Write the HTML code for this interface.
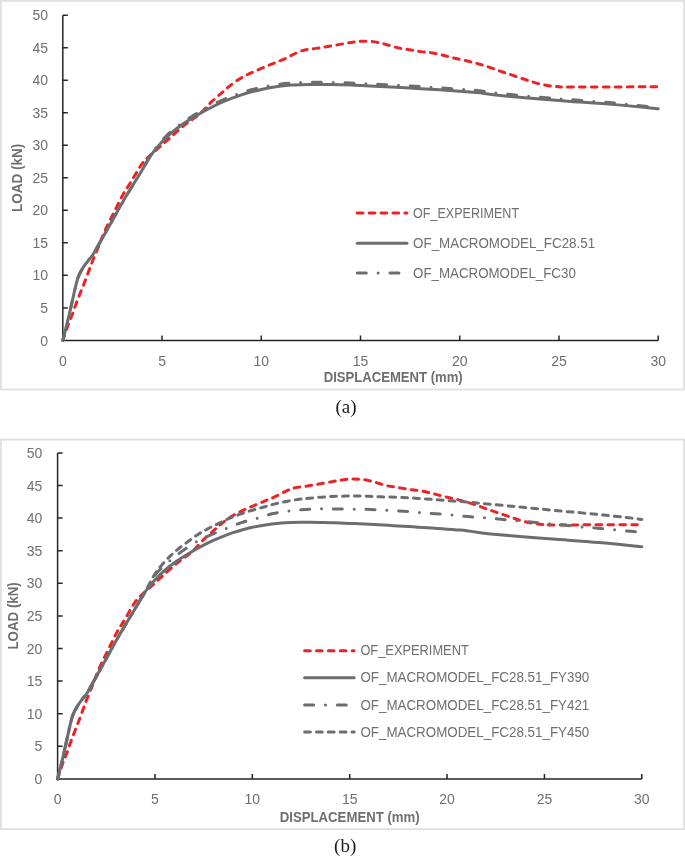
<!DOCTYPE html>
<html><head><meta charset="utf-8"><title>Load-displacement curves</title>
<style>
html,body{margin:0;padding:0;background:#fff;}
body{width:685px;height:858px;overflow:hidden;}
svg{display:block;font-family:"Liberation Sans", Arial, sans-serif;}
.cap{font-family:"Liberation Serif","Times New Roman",serif;}
</style></head><body>
<svg width="685" height="858" viewBox="0 0 685 858">
<rect x="0.9" y="0.9" width="683.2" height="388.6" fill="#fff" stroke="#dfe0e2" stroke-width="1.8"/>
<rect x="0.9" y="439.6" width="683.2" height="389.5" fill="#fff" stroke="#dfe0e2" stroke-width="1.8"/>
<path d="M62.8 15.2 V340.4 H658.2" fill="none" stroke="#262626" stroke-width="1.5"/>
<path d="M62.8 307.88h5 M62.8 275.36h5 M62.8 242.84h5 M62.8 210.32h5 M62.8 177.8h5 M62.8 145.28h5 M62.8 112.76h5 M62.8 80.24h5 M62.8 47.72h5 M62.8 15.2h5 M162.03 340.4v-5 M261.27 340.4v-5 M360.5 340.4v-5 M459.73 340.4v-5 M558.97 340.4v-5 M658.2 340.4v-5" stroke="#262626" stroke-width="1.5"/>
<g fill="#6e6f72" font-size="14">
<text x="48.1" y="345.5" text-anchor="end">0</text>
<text x="48.1" y="312.98" text-anchor="end">5</text>
<text x="48.1" y="280.46" text-anchor="end">10</text>
<text x="48.1" y="247.94" text-anchor="end">15</text>
<text x="48.1" y="215.42" text-anchor="end">20</text>
<text x="48.1" y="182.9" text-anchor="end">25</text>
<text x="48.1" y="150.38" text-anchor="end">30</text>
<text x="48.1" y="117.86" text-anchor="end">35</text>
<text x="48.1" y="85.34" text-anchor="end">40</text>
<text x="48.1" y="52.82" text-anchor="end">45</text>
<text x="48.1" y="20.3" text-anchor="end">50</text>
<text x="62.8" y="365.8" text-anchor="middle">0</text>
<text x="162.03" y="365.8" text-anchor="middle">5</text>
<text x="261.27" y="365.8" text-anchor="middle">10</text>
<text x="360.5" y="365.8" text-anchor="middle">15</text>
<text x="459.73" y="365.8" text-anchor="middle">20</text>
<text x="558.97" y="365.8" text-anchor="middle">25</text>
<text x="658.2" y="365.8" text-anchor="middle">30</text>
</g>
<text x="323.7" y="382.2" fill="#6e6f72" font-size="14" font-weight="bold" textLength="139" lengthAdjust="spacingAndGlyphs">DISPLACEMENT (mm)</text>
<text transform="translate(21.6 177.8) rotate(-90)" x="-34.15" y="0" fill="#6e6f72" font-size="14" font-weight="bold" textLength="68.3" lengthAdjust="spacingAndGlyphs">LOAD (kN)</text>
<path d="M62.8 340.4C63.76 337.58 67 327.72 68.56 323.49C70.11 319.26 70.9 318.23 72.13 315.03C73.35 311.84 74.58 307.88 75.9 304.3C77.22 300.73 78.68 297.09 80.07 293.57C81.46 290.05 82.85 286.74 84.23 283.16C85.62 279.59 87.01 275.79 88.4 272.11C89.79 268.42 90.85 265.39 92.57 261.05C94.29 256.72 96.61 251.3 98.72 246.09C100.84 240.89 102.66 235.58 105.27 229.83C107.89 224.09 111.46 217.47 114.4 211.62C117.35 205.77 120.29 199.48 122.94 194.71C125.58 189.94 127.14 188.1 130.28 183C133.42 177.91 138.65 168.59 141.79 164.14C144.93 159.7 146.19 159.16 149.13 156.34C152.08 153.52 156.05 150.27 159.45 147.23C162.86 144.2 165.67 141.59 169.58 138.13C173.48 134.66 179.17 129.45 182.87 126.42C186.58 123.38 188.89 122.08 191.8 119.91C194.71 117.75 197.03 116.45 200.34 113.41C203.65 110.38 208.04 105.17 211.65 101.7C215.26 98.23 218.99 95.2 221.97 92.6C224.95 90 226.6 88.37 229.51 86.09C232.42 83.82 236.03 81.05 239.44 78.94C242.84 76.83 246.22 75.2 249.95 73.41C253.69 71.62 257.93 69.89 261.86 68.21C265.8 66.53 269.87 64.85 273.57 63.33C277.28 61.81 280.39 60.78 284.09 59.1C287.8 57.42 292.33 54.77 295.8 53.25C299.27 51.73 301.52 50.81 304.93 50C308.34 49.18 312.4 48.97 316.24 48.37C320.08 47.77 323.82 47.12 327.95 46.42C332.09 45.71 336.92 44.85 341.05 44.14C345.18 43.44 349.12 42.68 352.76 42.19C356.4 41.7 359.24 41.27 362.88 41.22C366.52 41.16 370.69 41.32 374.59 41.87C378.49 42.41 382.5 43.49 386.3 44.47C390.1 45.44 393.61 46.85 397.41 47.72C401.22 48.59 405.22 49.02 409.12 49.67C413.03 50.32 416.93 51.08 420.83 51.62C424.74 52.16 428.64 52.27 432.54 52.92C436.45 53.57 440.38 54.6 444.25 55.52C448.12 56.45 451.89 57.53 455.76 58.45C459.63 59.37 463.64 60.13 467.47 61.05C471.31 61.97 474.98 62.9 478.79 63.98C482.59 65.06 486.43 66.26 490.3 67.56C494.17 68.86 498.1 70.43 502.01 71.78C505.91 73.14 509.81 74.39 513.72 75.69C517.62 76.99 521.79 78.4 525.43 79.59C529.06 80.78 531.91 81.87 535.55 82.84C539.19 83.82 543.35 84.79 547.26 85.44C551.16 86.09 555.2 86.47 558.97 86.74C562.74 87.02 553.34 87.07 569.88 87.07C586.42 87.07 643.48 86.8 658.2 86.74" fill="none" stroke="#ed2224" stroke-width="3" stroke-linecap="round" stroke-linejoin="round" stroke-dasharray="5.7 6.186" stroke-dashoffset="0.35"/>
<path d="M62.8 340.4C63.06 339.32 63.63 336.93 64.39 333.9C65.15 330.86 66.41 326.09 67.36 322.19C68.32 318.29 69.25 314.33 70.14 310.48C71.04 306.63 71.86 302.89 72.72 299.1C73.58 295.31 74.44 291.24 75.3 287.72C76.16 284.19 76.99 280.62 77.88 277.96C78.78 275.31 79.6 273.79 80.66 271.78C81.72 269.78 82.94 267.83 84.23 265.93C85.52 264.03 87.01 262.19 88.4 260.4C89.79 258.61 91.08 257.42 92.57 255.2C94.06 252.98 95.68 249.94 97.33 247.07C98.99 244.19 100.81 240.94 102.49 237.96C104.18 234.98 103.82 235.63 107.45 229.18C111.09 222.73 119.07 208.26 124.32 199.26C129.58 190.27 134.38 182.79 139.01 175.2C143.64 167.61 148.27 159.29 152.11 153.74C155.95 148.19 158.73 145.45 162.03 141.9C165.34 138.34 168.65 135.25 171.96 132.4C175.26 129.55 178.57 127.14 181.88 124.79C185.19 122.44 188.5 120.34 191.8 118.29C195.11 116.24 198.42 114.34 201.73 112.5C205.03 110.66 208.34 108.9 211.65 107.23C214.96 105.56 218.27 103.96 221.57 102.48C224.88 101.01 228.19 99.67 231.5 98.39C234.8 97.11 238.11 95.9 241.42 94.81C244.73 93.71 248.04 92.72 251.34 91.82C254.65 90.92 257.96 90.13 261.27 89.41C264.57 88.7 267.88 88.08 271.19 87.52C274.5 86.97 277.81 86.49 281.11 86.09C284.42 85.69 287.73 85.36 291.04 85.12C294.34 84.88 297.65 84.77 300.96 84.66C304.27 84.55 307.58 84.51 310.88 84.47C314.19 84.42 317.5 84.39 320.81 84.4C324.11 84.41 327.42 84.47 330.73 84.53C334.04 84.6 337.35 84.7 340.65 84.79C343.96 84.89 347.27 85 350.58 85.12C353.88 85.24 357.19 85.37 360.5 85.51C363.81 85.65 367.12 85.8 370.42 85.96C373.73 86.13 377.04 86.32 380.35 86.48C383.65 86.65 386.96 86.78 390.27 86.94C393.58 87.1 396.89 87.28 400.19 87.46C403.5 87.64 406.81 87.85 410.12 88.04C413.42 88.24 416.73 88.42 420.04 88.63C423.35 88.84 426.66 89.07 429.96 89.28C433.27 89.49 436.58 89.65 439.89 89.87C443.19 90.08 446.5 90.34 449.81 90.58C453.12 90.82 456.43 91.06 459.73 91.3C463.04 91.54 466.35 91.76 469.66 92.01C472.96 92.26 475.94 92.37 479.58 92.79C483.22 93.22 485.86 93.88 491.49 94.55C497.11 95.22 504.72 96.03 513.32 96.83C521.92 97.62 533.5 98.54 543.09 99.3C552.68 100.06 558.97 100.49 570.87 101.38C582.78 102.27 599.98 103.38 614.54 104.63C629.09 105.88 650.92 108.15 658.2 108.86" fill="none" stroke="#6c6d70" stroke-width="3" stroke-linecap="round" stroke-linejoin="round"/>
<path d="M62.8 340.4C63.06 339.32 63.63 336.93 64.39 333.9C65.15 330.86 66.41 326.09 67.36 322.19C68.32 318.29 69.25 314.33 70.14 310.48C71.04 306.63 71.86 302.89 72.72 299.1C73.58 295.31 74.44 291.24 75.3 287.72C76.16 284.19 76.99 280.62 77.88 277.96C78.78 275.31 79.6 273.79 80.66 271.78C81.72 269.78 82.94 267.83 84.23 265.93C85.52 264.03 87.01 262.19 88.4 260.4C89.79 258.61 91.08 257.42 92.57 255.2C94.06 252.98 95.68 249.94 97.33 247.07C98.99 244.19 100.81 240.94 102.49 237.96C104.18 234.98 103.82 235.63 107.45 229.18C111.09 222.73 119.07 208.26 124.32 199.26C129.58 190.27 134.38 182.91 139.01 175.2C143.64 167.49 148.27 158.8 152.11 153C155.95 147.21 158.73 144.16 162.03 140.43C165.34 136.71 168.65 133.55 171.96 130.65C175.26 127.75 178.57 125.39 181.88 123.04C185.19 120.68 188.5 118.58 191.8 116.53C195.11 114.48 198.42 112.59 201.73 110.74C205.03 108.9 208.34 107.2 211.65 105.48C214.96 103.75 218.27 101.93 221.57 100.4C224.88 98.87 228.19 97.58 231.5 96.3C234.8 95.03 238.11 93.82 241.42 92.73C244.73 91.63 248.04 90.64 251.34 89.74C254.65 88.84 257.96 88.04 261.27 87.33C264.57 86.61 267.88 86 271.19 85.44C274.5 84.89 277.81 84.41 281.11 84.01C284.42 83.61 287.73 83.28 291.04 83.04C294.34 82.8 297.65 82.69 300.96 82.58C304.27 82.47 307.58 82.43 310.88 82.39C314.19 82.34 317.5 82.31 320.81 82.32C324.11 82.33 327.42 82.39 330.73 82.45C334.04 82.52 337.35 82.61 340.65 82.71C343.96 82.81 347.27 82.92 350.58 83.04C353.88 83.16 357.19 83.29 360.5 83.43C363.81 83.57 367.12 83.72 370.42 83.88C373.73 84.04 377.04 84.24 380.35 84.4C383.65 84.57 386.96 84.7 390.27 84.86C393.58 85.02 396.89 85.19 400.19 85.38C403.5 85.56 406.81 85.77 410.12 85.96C413.42 86.16 416.73 86.34 420.04 86.55C423.35 86.75 426.66 86.99 429.96 87.2C433.27 87.41 436.58 87.57 439.89 87.78C443.19 88 446.5 88.26 449.81 88.5C453.12 88.74 456.43 88.98 459.73 89.22C463.04 89.45 466.35 89.68 469.66 89.93C472.96 90.18 475.94 90.29 479.58 90.71C483.22 91.13 485.86 91.78 491.49 92.47C497.11 93.15 504.72 93.99 513.32 94.81C521.92 95.64 533.5 96.62 543.09 97.43C552.68 98.24 558.97 98.7 570.87 99.65C582.78 100.6 599.98 101.8 614.54 103.11C629.09 104.43 650.92 106.82 658.2 107.56" fill="none" stroke="#6c6d70" stroke-width="3" stroke-linecap="round" stroke-linejoin="round" stroke-dasharray="9 11.83 0 11.83" stroke-dashoffset="0.64"/>
<path d="M357.3 213H406.9" fill="none" stroke="#ed2224" stroke-width="3" stroke-linecap="round" stroke-linejoin="round" stroke-dasharray="5.7 6.186"/>
<text x="413.1" y="217.65" fill="#6e6f72" font-size="13.8" textLength="106" lengthAdjust="spacingAndGlyphs">OF_EXPERIMENT</text>
<path d="M357.3 243.2H406.9" fill="none" stroke="#6c6d70" stroke-width="3" stroke-linecap="round" stroke-linejoin="round"/>
<text x="413.1" y="247.85" fill="#6e6f72" font-size="13.8" textLength="182" lengthAdjust="spacingAndGlyphs">OF_MACROMODEL_FC28.51</text>
<path d="M357.3 273H406.9" fill="none" stroke="#6c6d70" stroke-width="3" stroke-linecap="round" stroke-linejoin="round" stroke-dasharray="9 11.83 0 11.83"/>
<text x="413.1" y="277.65" fill="#6e6f72" font-size="13.8" textLength="162.7" lengthAdjust="spacingAndGlyphs">OF_MACROMODEL_FC30</text>
<path d="M57.6 452.9 V778.9 H641.8" fill="none" stroke="#262626" stroke-width="1.5"/>
<path d="M57.6 746.3h5 M57.6 713.7h5 M57.6 681.1h5 M57.6 648.5h5 M57.6 615.9h5 M57.6 583.3h5 M57.6 550.7h5 M57.6 518.1h5 M57.6 485.5h5 M57.6 452.9h5 M154.97 778.9v-5 M252.33 778.9v-5 M349.7 778.9v-5 M447.07 778.9v-5 M544.43 778.9v-5 M641.8 778.9v-5" stroke="#262626" stroke-width="1.5"/>
<g fill="#6e6f72" font-size="14">
<text x="42.4" y="784" text-anchor="end">0</text>
<text x="42.4" y="751.4" text-anchor="end">5</text>
<text x="42.4" y="718.8" text-anchor="end">10</text>
<text x="42.4" y="686.2" text-anchor="end">15</text>
<text x="42.4" y="653.6" text-anchor="end">20</text>
<text x="42.4" y="621" text-anchor="end">25</text>
<text x="42.4" y="588.4" text-anchor="end">30</text>
<text x="42.4" y="555.8" text-anchor="end">35</text>
<text x="42.4" y="523.2" text-anchor="end">40</text>
<text x="42.4" y="490.6" text-anchor="end">45</text>
<text x="42.4" y="458" text-anchor="end">50</text>
<text x="57.6" y="803.8" text-anchor="middle">0</text>
<text x="154.97" y="803.8" text-anchor="middle">5</text>
<text x="252.33" y="803.8" text-anchor="middle">10</text>
<text x="349.7" y="803.8" text-anchor="middle">15</text>
<text x="447.07" y="803.8" text-anchor="middle">20</text>
<text x="544.43" y="803.8" text-anchor="middle">25</text>
<text x="641.8" y="803.8" text-anchor="middle">30</text>
</g>
<text x="279.7" y="821.5" fill="#6e6f72" font-size="14" font-weight="bold" textLength="140" lengthAdjust="spacingAndGlyphs">DISPLACEMENT (mm)</text>
<text transform="translate(18.1 615.9) rotate(-90)" x="-33.7" y="0" fill="#6e6f72" font-size="14" font-weight="bold" textLength="67.4" lengthAdjust="spacingAndGlyphs">LOAD (kN)</text>
<path d="M57.6 778.9C58.54 776.07 61.72 766.19 63.25 761.95C64.77 757.71 65.55 756.68 66.75 753.47C67.95 750.27 69.15 746.3 70.45 742.71C71.75 739.13 73.18 735.49 74.54 731.96C75.9 728.42 77.27 725.11 78.63 721.52C79.99 717.94 81.36 714.13 82.72 710.44C84.08 706.75 85.12 703.7 86.81 699.36C88.5 695.01 90.77 689.58 92.85 684.36C94.92 679.14 96.71 673.82 99.27 668.06C101.84 662.3 105.34 655.67 108.23 649.8C111.12 643.94 114.01 637.63 116.6 632.85C119.2 628.07 120.73 626.22 123.81 621.12C126.89 616.01 132.02 606.66 135.1 602.21C138.19 597.75 139.42 597.21 142.31 594.38C145.2 591.56 149.09 588.3 152.44 585.26C155.78 582.21 158.54 579.61 162.37 576.13C166.2 572.65 171.78 567.43 175.41 564.39C179.05 561.35 181.32 560.05 184.18 557.87C187.03 555.7 189.3 554.39 192.55 551.35C195.8 548.31 200.11 543.09 203.65 539.62C207.19 536.14 210.86 533.1 213.78 530.49C216.7 527.88 218.32 526.25 221.18 523.97C224.03 521.69 227.57 518.91 230.91 516.8C234.26 514.68 237.57 513.05 241.23 511.25C244.9 509.46 249.06 507.72 252.92 506.04C256.78 504.35 260.77 502.67 264.41 501.15C268.04 499.63 271.09 498.59 274.73 496.91C278.36 495.23 282.81 492.56 286.22 491.04C289.62 489.52 291.83 488.6 295.17 487.78C298.52 486.97 302.51 486.75 306.27 486.15C310.04 485.55 313.71 484.9 317.76 484.2C321.82 483.49 326.56 482.62 330.62 481.91C334.67 481.21 338.54 480.45 342.11 479.96C345.68 479.47 348.47 479.03 352.04 478.98C355.61 478.93 359.7 479.09 363.53 479.63C367.36 480.18 371.28 481.26 375.02 482.24C378.75 483.22 382.19 484.63 385.92 485.5C389.65 486.37 393.58 486.8 397.41 487.46C401.24 488.11 405.07 488.87 408.9 489.41C412.73 489.96 416.56 490.06 420.39 490.72C424.22 491.37 428.08 492.4 431.88 493.32C435.67 494.25 439.37 495.33 443.17 496.26C446.97 497.18 450.9 497.94 454.66 498.87C458.43 499.79 462.03 500.71 465.76 501.8C469.49 502.89 473.26 504.08 477.06 505.39C480.85 506.69 484.72 508.27 488.54 509.62C492.37 510.98 496.2 512.23 500.03 513.54C503.86 514.84 507.95 516.25 511.52 517.45C515.09 518.64 517.88 519.73 521.45 520.71C525.02 521.69 529.11 522.66 532.94 523.32C536.77 523.97 540.73 524.35 544.43 524.62C548.13 524.89 538.92 524.95 555.14 524.95C571.37 524.95 627.36 524.67 641.8 524.62" fill="none" stroke="#ed2224" stroke-width="3" stroke-linecap="round" stroke-linejoin="round" stroke-dasharray="5.7 6.186" stroke-dashoffset="0.45"/>
<path d="M57.6 778.9C57.86 777.81 58.41 775.42 59.16 772.38C59.9 769.34 61.14 764.56 62.08 760.64C63.02 756.73 63.93 752.77 64.81 748.91C65.68 745.05 66.49 741.3 67.34 737.5C68.18 733.69 69.02 729.62 69.87 726.09C70.71 722.56 71.52 718.97 72.4 716.31C73.28 713.65 74.09 712.12 75.13 710.11C76.16 708.1 77.37 706.15 78.63 704.25C79.9 702.34 81.36 700.5 82.72 698.7C84.08 696.91 85.35 695.72 86.81 693.49C88.27 691.26 89.86 688.22 91.48 685.34C93.11 682.46 94.89 679.2 96.55 676.21C98.2 673.22 97.84 673.87 101.41 667.41C104.99 660.94 112.81 646.44 117.97 637.42C123.13 628.4 127.83 620.9 132.38 613.29C136.92 605.69 141.47 597.34 145.23 591.78C148.99 586.21 151.72 583.47 154.97 579.91C158.21 576.35 161.46 573.25 164.7 570.39C167.95 567.53 171.19 565.12 174.44 562.76C177.69 560.4 180.93 558.3 184.18 556.24C187.42 554.19 190.67 552.29 193.91 550.44C197.16 548.59 200.4 546.83 203.65 545.16C206.9 543.48 210.14 541.88 213.39 540.4C216.63 538.92 219.88 537.57 223.12 536.29C226.37 535.01 229.61 533.8 232.86 532.7C236.11 531.61 239.35 530.61 242.6 529.71C245.84 528.8 249.09 528.01 252.33 527.29C255.58 526.58 258.82 525.96 262.07 525.4C265.32 524.85 268.56 524.37 271.81 523.97C275.05 523.57 278.3 523.23 281.54 522.99C284.79 522.75 288.03 522.64 291.28 522.53C294.53 522.42 297.77 522.38 301.02 522.34C304.26 522.29 307.51 522.26 310.75 522.27C314 522.28 317.24 522.34 320.49 522.4C323.74 522.47 326.98 522.57 330.23 522.66C333.47 522.76 336.72 522.87 339.96 522.99C343.21 523.11 346.45 523.24 349.7 523.38C352.95 523.52 356.19 523.67 359.44 523.84C362.68 524 365.93 524.2 369.17 524.36C372.42 524.52 375.66 524.65 378.91 524.82C382.16 524.98 385.4 525.15 388.65 525.34C391.89 525.52 395.14 525.73 398.38 525.92C401.63 526.12 404.87 526.3 408.12 526.51C411.37 526.72 414.61 526.96 417.86 527.16C421.1 527.37 424.35 527.53 427.59 527.75C430.84 527.97 434.08 528.23 437.33 528.47C440.58 528.71 443.82 528.94 447.07 529.18C450.31 529.42 453.56 529.65 456.8 529.9C460.05 530.15 462.97 530.26 466.54 530.68C470.11 531.11 472.71 531.77 478.22 532.44C483.74 533.12 491.21 533.93 499.64 534.73C508.08 535.52 519.44 536.44 528.85 537.2C538.27 537.96 544.43 538.4 556.12 539.29C567.8 540.18 584.68 541.3 598.96 542.55C613.24 543.8 634.66 546.08 641.8 546.79" fill="none" stroke="#6c6d70" stroke-width="3" stroke-linecap="round" stroke-linejoin="round"/>
<path d="M57.6 778.9C57.86 777.81 58.41 775.42 59.16 772.38C59.9 769.34 61.14 764.56 62.08 760.64C63.02 756.73 63.93 752.77 64.81 748.91C65.68 745.05 66.49 741.3 67.34 737.5C68.18 733.69 69.02 729.62 69.87 726.09C70.71 722.56 71.52 718.97 72.4 716.31C73.28 713.65 74.09 712.12 75.13 710.11C76.16 708.1 77.37 706.15 78.63 704.25C79.9 702.34 81.36 700.5 82.72 698.7C84.08 696.91 85.35 695.72 86.81 693.49C88.27 691.26 89.86 688.22 91.48 685.34C93.11 682.46 94.89 679.2 96.55 676.21C98.2 673.22 97.84 673.87 101.41 667.41C104.99 660.94 112.81 646.44 117.97 637.42C123.13 628.4 127.83 620.9 132.38 613.29C136.92 605.69 141.66 597.86 145.23 591.78C148.8 585.69 151.14 580.69 153.8 576.78C156.46 572.87 158.08 571.35 161.2 568.3C164.31 565.26 168.79 561.52 172.49 558.52C176.19 555.52 179.37 553.13 183.4 550.31C187.42 547.48 191.87 544.22 196.64 541.57C201.41 538.92 207.06 536.57 212.02 534.4C216.99 532.23 221.4 530.54 226.43 528.53C231.46 526.52 237.05 524.08 242.21 522.34C247.37 520.6 252.24 519.57 257.4 518.1C262.56 516.63 267.91 514.73 273.17 513.54C278.43 512.34 283.56 511.6 288.94 510.93C294.33 510.25 300.08 509.85 305.5 509.49C310.92 509.13 316.04 508.86 321.46 508.78C326.88 508.69 332.56 508.91 338.02 508.97C343.47 509.04 348.73 509.08 354.18 509.17C359.63 509.25 365.25 509.31 370.73 509.49C376.22 509.68 381.64 509.99 387.09 510.28C392.54 510.56 398.06 510.82 403.45 511.19C408.83 511.56 414.06 512.07 419.41 512.49C424.77 512.92 430.12 513.3 435.58 513.73C441.03 514.17 446.68 514.62 452.13 515.1C457.58 515.58 462.9 516.15 468.29 516.6C473.68 517.05 479.04 517.33 484.46 517.77C489.88 518.22 495.43 518.77 500.81 519.27C506.2 519.77 511.39 520.28 516.78 520.77C522.17 521.26 527.65 521.72 533.14 522.21C538.62 522.7 544.3 523.2 549.69 523.71C555.08 524.22 560.08 524.74 565.46 525.27C570.85 525.8 576.63 526.41 582.02 526.9C587.4 527.39 592.4 527.74 597.79 528.21C603.18 528.67 608.89 529.19 614.34 529.71C619.8 530.22 625.93 530.87 630.51 531.27C635.08 531.67 639.92 531.98 641.8 532.12" fill="none" stroke="#6c6d70" stroke-width="3" stroke-linecap="round" stroke-linejoin="round" stroke-dasharray="9 11.83 0 11.83" stroke-dashoffset="0.67"/>
<path d="M57.6 778.9C57.86 777.81 58.41 775.42 59.16 772.38C59.9 769.34 61.14 764.56 62.08 760.64C63.02 756.73 63.93 752.77 64.81 748.91C65.68 745.05 66.49 741.3 67.34 737.5C68.18 733.69 69.02 729.62 69.87 726.09C70.71 722.56 71.52 718.97 72.4 716.31C73.28 713.65 74.09 712.12 75.13 710.11C76.16 708.1 77.37 706.15 78.63 704.25C79.9 702.34 81.36 700.5 82.72 698.7C84.08 696.91 85.35 695.72 86.81 693.49C88.27 691.26 89.86 688.22 91.48 685.34C93.11 682.46 94.89 679.2 96.55 676.21C98.2 673.22 97.84 673.87 101.41 667.41C104.99 660.94 112.81 646.44 117.97 637.42C123.13 628.4 127.83 620.9 132.38 613.29C136.92 605.69 141.63 598.08 145.23 591.78C148.83 585.47 151.23 579.93 153.99 575.48C156.75 571.02 159.06 568.3 161.78 565.04C164.51 561.78 167.56 558.63 170.35 555.92C173.14 553.2 175.58 551.13 178.53 548.74C181.48 546.35 184.83 543.96 188.07 541.57C191.32 539.18 194.72 536.52 198 534.4C201.28 532.28 204.27 530.71 207.74 528.86C211.21 527.01 215.3 525.05 218.84 523.32C222.38 521.58 225.4 519.95 228.97 518.43C232.54 516.9 236.43 515.55 240.26 514.19C244.09 512.83 247.98 511.47 251.94 510.28C255.9 509.08 260.28 508.05 264.02 507.02C267.75 505.98 270.64 505.01 274.34 504.08C278.04 503.16 282.35 502.23 286.22 501.47C290.08 500.71 293.71 500.05 297.51 499.52C301.31 498.99 304.16 498.74 309 498.28C313.84 497.82 320.43 497.15 326.53 496.78C332.63 496.41 339.51 496.18 345.61 496.06C351.71 495.94 357.33 495.94 363.14 496.06C368.95 496.18 374.01 496.55 380.47 496.78C386.93 497.01 394.65 497.09 401.89 497.43C409.13 497.77 416.59 498.29 423.89 498.8C431.2 499.31 438.4 499.94 445.7 500.5C453.01 501.05 460.73 501.54 467.71 502.13C474.69 502.71 480.37 503.34 487.57 504.02C494.78 504.69 503.15 505.44 510.94 506.17C518.73 506.9 526.52 507.61 534.31 508.39C542.1 509.16 549.72 510.05 557.68 510.8C565.63 511.55 574.32 512.17 582.02 512.88C589.71 513.6 596.52 514.35 603.83 515.1C611.13 515.85 619.5 516.67 625.83 517.38C632.16 518.1 639.14 519.07 641.8 519.4" fill="none" stroke="#6c6d70" stroke-width="3" stroke-linecap="round" stroke-linejoin="round" stroke-dasharray="5.8 6.06" stroke-dashoffset="-0.27"/>
<path d="M304.6 650.8H354.1" fill="none" stroke="#ed2224" stroke-width="3" stroke-linecap="round" stroke-linejoin="round" stroke-dasharray="5.7 6.186"/>
<text x="360.4" y="655.45" fill="#6e6f72" font-size="13.8" textLength="108.4" lengthAdjust="spacingAndGlyphs">OF_EXPERIMENT</text>
<path d="M304.6 677.8H354.1" fill="none" stroke="#6c6d70" stroke-width="3" stroke-linecap="round" stroke-linejoin="round"/>
<text x="360.4" y="682.45" fill="#6e6f72" font-size="13.8" textLength="228.9" lengthAdjust="spacingAndGlyphs">OF_MACROMODEL_FC28.51_FY390</text>
<path d="M304.6 705H354.1" fill="none" stroke="#6c6d70" stroke-width="3" stroke-linecap="round" stroke-linejoin="round" stroke-dasharray="9 11.83 0 11.83"/>
<text x="360.4" y="709.65" fill="#6e6f72" font-size="13.8" textLength="228.9" lengthAdjust="spacingAndGlyphs">OF_MACROMODEL_FC28.51_FY421</text>
<path d="M304.6 732.1H354.1" fill="none" stroke="#6c6d70" stroke-width="3" stroke-linecap="round" stroke-linejoin="round" stroke-dasharray="5.8 6.06"/>
<text x="360.4" y="736.75" fill="#6e6f72" font-size="13.8" textLength="228.9" lengthAdjust="spacingAndGlyphs">OF_MACROMODEL_FC28.51_FY450</text>
<text class="cap" x="346.1" y="413.2" font-size="19" text-anchor="middle" fill="#1a1a1a">(a)</text>
<text class="cap" x="345.2" y="852.2" font-size="19" text-anchor="middle" fill="#1a1a1a">(b)</text>
</svg>
</body></html>
